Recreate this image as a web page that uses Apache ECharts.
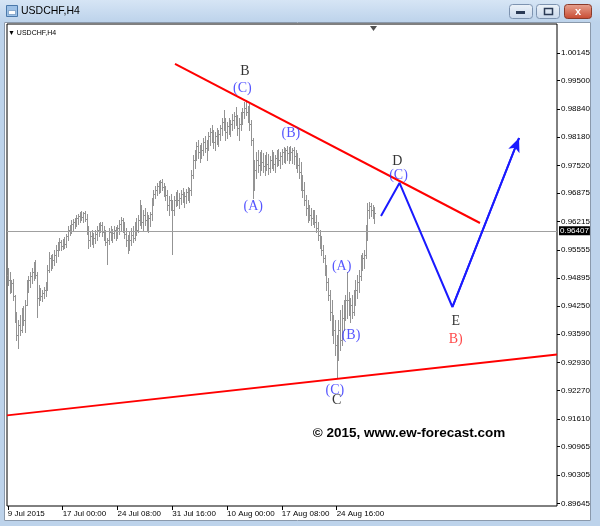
<!DOCTYPE html>
<html>
<head>
<meta charset="utf-8">
<script src="https://cdn.jsdelivr.net/npm/echarts@6.0.0/dist/echarts.min.js"></script>
<style>
html,body{margin:0;padding:0;background:#fff;}
#chart{width:600px;height:526px;}
</style>
</head>
<body>
<div id="chart"></div>
<script>
// ---------------- DATA ----------------
const SYMBOL_TITLE = 'USDCHF,H4';
const X_TICK_IDX = [0, 32, 64, 96, 128, 160, 192];
const X_LABELS = ['9 Jul 2015', '17 Jul 00:00', '24 Jul 08:00', '31 Jul 16:00', '10 Aug 00:00', '17 Aug 08:00', '24 Aug 16:00'];
const Y_TICKS = [0.89645, 0.90305, 0.90965, 0.91610, 0.92270, 0.92930, 0.93590, 0.94250, 0.94895,
                 0.95555, 0.96215, 0.96875, 0.97520, 0.98180, 0.98840, 0.99500, 1.00145];
const LAST_PRICE = 0.96407;
// H4 bars: [open, high, low, close]
const BARS_OHLC = [
[0.9497,0.9513,0.9473,0.9485],[0.9485,0.9504,0.9455,0.9466],[0.9466,0.9485,0.9457,0.9478],[0.9478,0.9487,0.9439,0.9448],
[0.9448,0.9450,0.9387,0.9397],[0.9397,0.9411,0.9345,0.9357],[0.9357,0.9392,0.9327,0.9380],[0.9380,0.9404,0.9357,0.9369],
[0.9369,0.9420,0.9364,0.9404],[0.9404,0.9424,0.9380,0.9392],[0.9392,0.9439,0.9364,0.9427],[0.9427,0.9485,0.9427,0.9473],
[0.9473,0.9494,0.9457,0.9485],[0.9485,0.9504,0.9469,0.9494],[0.9494,0.9513,0.9478,0.9504],[0.9504,0.9527,0.9485,0.9518],
[0.9518,0.9532,0.9490,0.9497],[0.9497,0.9504,0.9399,0.9443],[0.9443,0.9473,0.9427,0.9457],[0.9457,0.9466,0.9439,0.9448],
[0.9448,0.9462,0.9436,0.9455],[0.9455,0.9469,0.9443,0.9462],[0.9462,0.9480,0.9448,0.9473],[0.9473,0.9520,0.9462,0.9509],
[0.9509,0.9550,0.9504,0.9536],[0.9536,0.9543,0.9509,0.9518],[0.9518,0.9546,0.9513,0.9532],[0.9532,0.9555,0.9520,0.9543],
[0.9543,0.9567,0.9527,0.9555],[0.9555,0.9574,0.9541,0.9567],[0.9567,0.9583,0.9555,0.9574],[0.9574,0.9578,0.9555,0.9565],
[0.9565,0.9581,0.9557,0.9576],[0.9576,0.9585,0.9560,0.9569],[0.9569,0.9592,0.9562,0.9588],[0.9588,0.9611,0.9578,0.9602],
[0.9602,0.9613,0.9590,0.9606],[0.9606,0.9625,0.9595,0.9616],[0.9616,0.9627,0.9602,0.9620],[0.9620,0.9630,0.9606,0.9613],
[0.9613,0.9637,0.9611,0.9630],[0.9630,0.9639,0.9616,0.9634],[0.9634,0.9644,0.9620,0.9639],[0.9639,0.9646,0.9625,0.9632],
[0.9632,0.9644,0.9620,0.9641],[0.9641,0.9646,0.9623,0.9627],[0.9627,0.9639,0.9592,0.9602],[0.9602,0.9611,0.9560,0.9578],
[0.9578,0.9597,0.9565,0.9588],[0.9588,0.9602,0.9569,0.9578],[0.9578,0.9595,0.9562,0.9583],[0.9583,0.9602,0.9571,0.9592],
[0.9592,0.9611,0.9578,0.9602],[0.9602,0.9618,0.9588,0.9609],[0.9609,0.9620,0.9597,0.9613],[0.9613,0.9620,0.9588,0.9597],
[0.9597,0.9611,0.9578,0.9588],[0.9588,0.9602,0.9567,0.9574],[0.9574,0.9583,0.9522,0.9578],[0.9578,0.9606,0.9569,0.9597],
[0.9597,0.9611,0.9578,0.9588],[0.9588,0.9604,0.9574,0.9595],[0.9595,0.9611,0.9583,0.9602],[0.9602,0.9609,0.9578,0.9588],
[0.9588,0.9613,0.9583,0.9606],[0.9606,0.9625,0.9592,0.9616],[0.9616,0.9632,0.9602,0.9625],[0.9625,0.9630,0.9597,0.9611],
[0.9611,0.9620,0.9583,0.9592],[0.9592,0.9606,0.9565,0.9578],[0.9578,0.9590,0.9548,0.9585],[0.9585,0.9597,0.9555,0.9578],
[0.9578,0.9606,0.9567,0.9590],[0.9590,0.9611,0.9574,0.9583],[0.9583,0.9620,0.9578,0.9611],[0.9611,0.9630,0.9590,0.9602],
[0.9602,0.9637,0.9597,0.9625],[0.9625,0.9672,0.9613,0.9648],[0.9648,0.9660,0.9606,0.9620],[0.9620,0.9648,0.9602,0.9637],
[0.9637,0.9653,0.9613,0.9625],[0.9625,0.9644,0.9602,0.9616],[0.9616,0.9637,0.9597,0.9630],[0.9630,0.9644,0.9611,0.9639],
[0.9639,0.9676,0.9625,0.9667],[0.9667,0.9695,0.9660,0.9686],[0.9686,0.9704,0.9676,0.9695],[0.9695,0.9711,0.9683,0.9704],
[0.9704,0.9716,0.9688,0.9709],[0.9709,0.9718,0.9690,0.9714],[0.9714,0.9721,0.9695,0.9702],[0.9702,0.9711,0.9681,0.9690],
[0.9690,0.9704,0.9672,0.9683],[0.9683,0.9695,0.9648,0.9660],[0.9660,0.9681,0.9637,0.9672],[0.9672,0.9686,0.9648,0.9660],
[0.9660,0.9672,0.9546,0.9648],[0.9648,0.9681,0.9637,0.9672],[0.9672,0.9690,0.9658,0.9681],[0.9681,0.9695,0.9660,0.9672],
[0.9672,0.9688,0.9653,0.9676],[0.9676,0.9695,0.9662,0.9686],[0.9686,0.9700,0.9667,0.9674],[0.9674,0.9690,0.9655,0.9681],
[0.9681,0.9697,0.9665,0.9690],[0.9690,0.9702,0.9672,0.9683],[0.9683,0.9700,0.9667,0.9695],[0.9695,0.9742,0.9683,0.9730],
[0.9730,0.9777,0.9723,0.9765],[0.9765,0.9788,0.9746,0.9777],[0.9777,0.9807,0.9765,0.9798],[0.9798,0.9812,0.9770,0.9784],
[0.9784,0.9800,0.9760,0.9793],[0.9793,0.9805,0.9770,0.9788],[0.9788,0.9816,0.9777,0.9807],[0.9807,0.9821,0.9784,0.9793],
[0.9793,0.9812,0.9765,0.9800],[0.9800,0.9830,0.9788,0.9821],[0.9821,0.9840,0.9800,0.9830],[0.9830,0.9847,0.9807,0.9816],
[0.9816,0.9835,0.9793,0.9807],[0.9807,0.9830,0.9788,0.9821],[0.9821,0.9840,0.9802,0.9812],[0.9812,0.9835,0.9798,0.9826],
[0.9826,0.9847,0.9812,0.9840],[0.9840,0.9863,0.9823,0.9854],[0.9854,0.9882,0.9835,0.9844],[0.9844,0.9863,0.9812,0.9830],
[0.9830,0.9854,0.9816,0.9844],[0.9844,0.9863,0.9826,0.9835],[0.9835,0.9858,0.9821,0.9849],[0.9849,0.9872,0.9835,0.9858],
[0.9858,0.9877,0.9840,0.9868],[0.9868,0.9889,0.9847,0.9854],[0.9854,0.9870,0.9823,0.9840],[0.9840,0.9863,0.9812,0.9849],
[0.9849,0.9877,0.9835,0.9863],[0.9863,0.9886,0.9849,0.9877],[0.9877,0.9900,0.9863,0.9886],[0.9886,0.9905,0.9870,0.9877],
[0.9877,0.9891,0.9854,0.9882],[0.9882,0.9896,0.9835,0.9849],[0.9849,0.9858,0.9800,0.9812],[0.9812,0.9816,0.9676,0.9718],
[0.9718,0.9765,0.9695,0.9742],[0.9742,0.9784,0.9723,0.9765],[0.9765,0.9788,0.9737,0.9753],[0.9753,0.9784,0.9730,0.9770],
[0.9770,0.9788,0.9742,0.9760],[0.9760,0.9781,0.9737,0.9751],[0.9751,0.9777,0.9730,0.9765],[0.9765,0.9784,0.9742,0.9756],
[0.9756,0.9779,0.9732,0.9746],[0.9746,0.9774,0.9737,0.9765],[0.9765,0.9788,0.9746,0.9770],[0.9770,0.9784,0.9742,0.9756],
[0.9756,0.9777,0.9737,0.9770],[0.9770,0.9788,0.9751,0.9777],[0.9777,0.9791,0.9753,0.9765],[0.9765,0.9784,0.9746,0.9774],
[0.9774,0.9791,0.9756,0.9784],[0.9784,0.9795,0.9760,0.9777],[0.9777,0.9793,0.9758,0.9788],[0.9788,0.9798,0.9765,0.9781],
[0.9781,0.9795,0.9758,0.9791],[0.9791,0.9798,0.9765,0.9784],[0.9784,0.9793,0.9758,0.9788],[0.9788,0.9795,0.9756,0.9774],
[0.9774,0.9788,0.9746,0.9765],[0.9765,0.9781,0.9737,0.9753],[0.9753,0.9770,0.9723,0.9737],[0.9737,0.9760,0.9695,0.9709],
[0.9709,0.9730,0.9679,0.9695],[0.9695,0.9714,0.9660,0.9672],[0.9672,0.9683,0.9637,0.9653],[0.9653,0.9672,0.9620,0.9644],
[0.9644,0.9660,0.9625,0.9637],[0.9637,0.9653,0.9613,0.9630],[0.9630,0.9648,0.9616,0.9639],[0.9639,0.9648,0.9609,0.9620],
[0.9620,0.9637,0.9597,0.9606],[0.9606,0.9620,0.9578,0.9590],[0.9590,0.9602,0.9560,0.9574],[0.9574,0.9588,0.9543,0.9555],
[0.9555,0.9567,0.9527,0.9536],[0.9536,0.9543,0.9497,0.9509],[0.9509,0.9520,0.9462,0.9480],[0.9480,0.9490,0.9439,0.9450],
[0.9450,0.9462,0.9392,0.9411],[0.9411,0.9439,0.9357,0.9387],[0.9387,0.9404,0.9338,0.9369],[0.9369,0.9392,0.9310,0.9334],
[0.9334,0.9357,0.9257,0.9322],[0.9322,0.9392,0.9299,0.9369],[0.9369,0.9415,0.9322,0.9345],[0.9345,0.9427,0.9334,0.9397],
[0.9397,0.9439,0.9369,0.9415],[0.9415,0.9450,0.9392,0.9439],[0.9439,0.9504,0.9397,0.9439],[0.9439,0.9457,0.9404,0.9415],
[0.9415,0.9443,0.9387,0.9427],[0.9427,0.9450,0.9397,0.9411],[0.9411,0.9462,0.9404,0.9443],[0.9443,0.9485,0.9427,0.9462],
[0.9462,0.9497,0.9443,0.9480],[0.9480,0.9509,0.9457,0.9494],[0.9494,0.9543,0.9485,0.9527],[0.9527,0.9548,0.9509,0.9536],
[0.9536,0.9555,0.9513,0.9543],[0.9543,0.9613,0.9536,0.9597],[0.9597,0.9665,0.9578,0.9648],[0.9648,0.9667,0.9630,0.9658],
[0.9658,0.9665,0.9634,0.9648],[0.9648,0.9660,0.9630,0.9653],[0.9653,0.9655,0.9618,0.96407]
];
// trend lines [barIndex, price]
const UPPER_TREND = [[97.6, 0.99889], [275.7, 0.96181]];
const LOWER_TREND = [[-0.5, 0.91695], [320.67, 0.93117]];
// projected path [barIndex, price]
const PROJECTION = [[217.9, 0.96344], [228.7, 0.97114], [259.6, 0.94222], [298.5, 0.98163]];
// wave labels
const WAVE_TEXT  = ['B', '(C)', '(B)', '(A)', '(A)', '(B)', '(C)', 'C', 'D', '(C)', 'E', 'B)'];
const WAVE_IDX   = [138.5, 136.9, 165.3, 143.3, 194.9, 200.4, 191.0, 192.0, 227.4, 228.1, 261.5, 261.5];
const WAVE_PRICE = [0.99709, 0.99322, 0.98273, 0.96561, 0.95178, 0.93569, 0.92271, 0.92037, 0.97627, 0.97300, 0.93880, 0.93476];
const COPYRIGHT = '\u00A9 2015, www.ew-forecast.com';

// ---------------- CHART ----------------
const chart = echarts.init(document.getElementById('chart'), null, {renderer: 'canvas'});
const BAR_COLOR = '#939393';
const bars = BARS_OHLC.map((r, i) => [i, r[0], r[1], r[2], r[3]]);

function waveColor(t) {
  if (t === 'B)') return '#ff1a1a';
  if (t.charAt(0) === '(') return '#2a2aff';
  return '#000000';
}
const waveData = WAVE_TEXT.map((t, k) => ({
  name: t, value: [WAVE_IDX[k], WAVE_PRICE[k]],
  label: {color: waveColor(t)}
}));

const option = {
  animation: false,
  backgroundColor: '#ffffff',
  grid: {left: 7, right: 43, top: 24, bottom: 20, show: true, borderColor: '#000', borderWidth: 1, backgroundColor: '#fff'},
  xAxis: {
    type: 'value', min: -0.5, max: 320.67,
    axisLine: {show: false, onZero: false}, splitLine: {show: false},
    axisTick: {show: true, customValues: X_TICK_IDX, length: 4, lineStyle: {color: '#000'}},
    axisLabel: {customValues: X_TICK_IDX, formatter: v => X_LABELS[X_TICK_IDX.indexOf(v)] || '',
      align: 'left', margin: 4, fontSize: 8, color: '#000', fontFamily: 'Liberation Sans'}
  },
  yAxis: {
    type: 'value', position: 'right', min: 0.89582, max: 1.00821,
    axisLine: {show: false, onZero: false}, splitLine: {show: false},
    axisTick: {show: true, customValues: Y_TICKS, length: 3, lineStyle: {color: '#000'}},
    axisLabel: {customValues: Y_TICKS, formatter: v => Number(v).toFixed(5), margin: 4, fontSize: 8,
      color: '#000', fontFamily: 'Liberation Sans'}
  },
  series: [
    {
      type: 'custom', name: 'USDCHF', data: bars, clip: true,
      encode: {x: 0, y: [1, 2, 3, 4]},
      renderItem: function (params, api) {
        const i = api.value(0);
        const o = api.coord([i, api.value(1)]);
        const h = api.coord([i, api.value(2)]);
        const l = api.coord([i, api.value(3)]);
        const c = api.coord([i, api.value(4)]);
        const x = Math.round(o[0]) + 0.5;
        const st = {stroke: BAR_COLOR, lineWidth: 1};
        return {type: 'group', children: [
          {type: 'line', shape: {x1: x, y1: Math.round(h[1]), x2: x, y2: Math.round(l[1]) + 1}, style: st},
          {type: 'line', shape: {x1: x - 1.5, y1: Math.round(o[1]) + 0.5, x2: x, y2: Math.round(o[1]) + 0.5}, style: st},
          {type: 'line', shape: {x1: x, y1: Math.round(c[1]) + 0.5, x2: x + 1.5, y2: Math.round(c[1]) + 0.5}, style: st}
        ]};
      },
      markLine: {
        silent: true, symbol: ['none', 'none'], animation: false,
        data: [{yAxis: LAST_PRICE}],
        lineStyle: {color: '#a0a0a0', width: 1, type: 'solid'},
        label: {show: true, position: 'end', formatter: () => LAST_PRICE.toFixed(5), distance: 2,
          backgroundColor: '#000', color: '#fff', fontSize: 8, fontFamily: 'Liberation Sans', padding: [1, 1, 0, 1]}
      }
    },
    {
      type: 'line', name: 'upper', data: UPPER_TREND, symbol: 'none', silent: true,
      lineStyle: {color: '#ff0000', width: 2}, z: 5
    },
    {
      type: 'line', name: 'lower', data: LOWER_TREND, symbol: 'none', silent: true,
      lineStyle: {color: '#ff0000', width: 2}, z: 5
    },
    {
      type: 'line', name: 'projection', data: PROJECTION, symbol: 'none', silent: true,
      lineStyle: {color: '#1a1aff', width: 2}, z: 6,
      markLine: {
        silent: true, animation: false, symbol: ['none', 'arrow'], symbolSize: [9, 14],
        lineStyle: {color: '#1a1aff', width: 2, type: 'solid'}, label: {show: false},
        data: [[{coord: PROJECTION[2]}, {coord: PROJECTION[3]}]]
      }
    },
    {
      type: 'scatter', name: 'waves', data: waveData, symbol: 'circle', symbolSize: 1, silent: true,
      itemStyle: {color: 'rgba(0,0,0,0)'}, z: 7,
      label: {show: true, position: 'inside', formatter: '{b}', fontFamily: 'Liberation Serif', fontSize: 14}
    }
  ],
  graphic: [
    // window frame
    {type: 'rect', shape: {x: 0, y: 0, width: 600, height: 22}, z: 0,
      style: {fill: new echarts.graphic.LinearGradient(0, 0, 0, 1, [{offset: 0, color: '#d6e5f5'}, {offset: 1, color: '#bdd3eb'}])}},
    {type: 'rect', shape: {x: 0, y: 22, width: 4, height: 504}, style: {fill: '#bdd3eb'}},
    {type: 'rect', shape: {x: 591, y: 22, width: 9, height: 504}, style: {fill: '#bdd3eb'}},
    {type: 'rect', shape: {x: 0, y: 521, width: 600, height: 5}, style: {fill: '#bdd3eb'}},
    {type: 'rect', shape: {x: 4.5, y: 22.5, width: 586, height: 498}, style: {fill: 'none', stroke: '#8a99ab', lineWidth: 1}},
    // title icon + text
    {type: 'rect', shape: {x: 6.5, y: 5.5, width: 11, height: 11}, style: {fill: '#9cc0e6', stroke: '#4a78aa', lineWidth: 1}},
    {type: 'rect', shape: {x: 8.5, y: 10.5, width: 7, height: 4}, style: {fill: '#ffffff', stroke: '#4a78aa', lineWidth: 0.5}},
    {type: 'text', x: 21, y: 11, style: {text: SYMBOL_TITLE, font: '10.5px "Liberation Sans"', fill: '#000', textVerticalAlign: 'middle'}},
    // window buttons
    {type: 'rect', shape: {x: 509.5, y: 4.5, width: 23, height: 14, r: 3}, style: {
      fill: new echarts.graphic.LinearGradient(0, 0, 0, 1, [{offset: 0, color: '#eef3f9'}, {offset: 1, color: '#c8d8ec'}]), stroke: '#7d93b0'}},
    {type: 'rect', shape: {x: 516, y: 11, width: 9, height: 3}, style: {fill: '#2a3a55'}},
    {type: 'rect', shape: {x: 536.5, y: 4.5, width: 23, height: 14, r: 3}, style: {
      fill: new echarts.graphic.LinearGradient(0, 0, 0, 1, [{offset: 0, color: '#eef3f9'}, {offset: 1, color: '#c8d8ec'}]), stroke: '#7d93b0'}},
    {type: 'rect', shape: {x: 544.5, y: 8.5, width: 8, height: 6}, style: {fill: 'none', stroke: '#2a3a55', lineWidth: 1.5}},
    {type: 'rect', shape: {x: 564.5, y: 4.5, width: 27, height: 14, r: 3}, style: {
      fill: new echarts.graphic.LinearGradient(0, 0, 0, 1, [{offset: 0, color: '#e8a593'}, {offset: 1, color: '#c7482f'}]), stroke: '#8a3a2a'}},
    {type: 'text', x: 578, y: 11.5, style: {text: 'x', font: 'bold 11px "Liberation Sans"', fill: '#fff', textAlign: 'center', textVerticalAlign: 'middle'}},
    // chart caption
    {type: 'text', x: 8, y: 33, style: {text: '\u25BC ' + SYMBOL_TITLE, font: '7px "Liberation Sans"', fill: '#000', textVerticalAlign: 'middle'}},
    {type: 'polygon', shape: {points: [[370, 26], [377, 26], [373.5, 31]]}, style: {fill: '#505050'}},
    // copyright
    {type: 'text', x: 409, y: 433, z: 10, style: {text: COPYRIGHT, font: 'bold 13.5px "Liberation Sans"', fill: '#000',
      textAlign: 'center', textVerticalAlign: 'middle'}}
  ]
};
chart.setOption(option);
</script>
</body>
</html>
